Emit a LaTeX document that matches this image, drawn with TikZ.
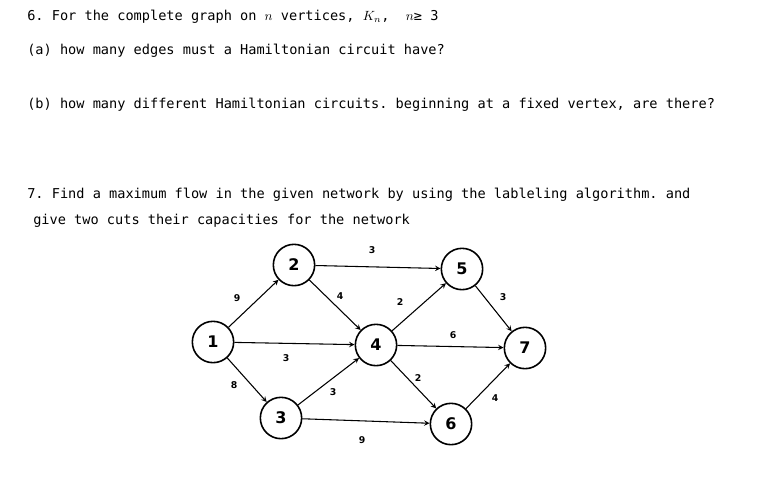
\documentclass[tikz,border=0pt]{standalone}
\usepackage{fontspec}
\setmainfont{DejaVu Sans}
\setmonofont{DejaVu Sans Mono}
\tikzset{vertex/.style = {draw, very thick, circle, minimum size=31pt, inner sep=0pt, font=\bfseries\large},
         flow/.style = {->, thick, >=stealth},
         capacity/.style = {font=\bfseries\scriptsize},
         line/.style = {anchor=west, inner sep=0pt, font=\ttfamily\fontsize{10.2}{12}\selectfont}}
\begin{document}
\begin{tikzpicture}[x=0.75pt,y=-0.75pt]
        \useasboundingbox (0,0) rectangle (767,486);
        % questions
        \node[line] (q6) at (27,17) {6. For the complete graph on $n$ vertices, $K_n$,\ \ $n$≥ 3};
        \node[line] (qa) at (27,51) {(a) how many edges must a Hamiltonian circuit have?};
        \node[line] (qb) at (27,105) {(b) how many different Hamiltonian circuits. beginning at a fixed vertex, are there?};
        \node[line] (q7) at (27,195) {7. Find a maximum flow in the given network by using the lableling algorithm. and};
        \node[line] (q7b) at (33,221) {give two cuts their capacities for the network};

        % network
        \node[vertex] (v1) at (213,342) {1};
        \node[vertex] (v2) at (294,265) {2};
        \node[vertex] (v3) at (281,418) {3};
        \node[vertex] (v4) at (376,345) {4};
        \node[vertex] (v5) at (462,269) {5};
        \node[vertex] (v6) at (451,424) {6};
        \node[vertex] (v7) at (525,348) {7};

        \draw[flow] (v1)--(v2);
        \draw[flow] (v1)--(v4);
        \draw[flow] (v1)--(v3);
        \draw[flow] (v2)--(v5);
        \draw[flow] (v2)--(v4);
        \draw[flow] (v3)--(v4);
        \draw[flow] (v3)--(v6);
        \draw[flow] (v4)--(v5);
        \draw[flow] (v4)--(v7);
        \draw[flow] (v4)--(v6);
        \draw[flow] (v5)--(v7);
        \draw[flow] (v6)--(v7);

        \node[capacity] (c12) at (237,298) {9};
        \node[capacity] (c24) at (340,296) {4};
        \node[capacity] (c25) at (372,250) {3};
        \node[capacity] (c45) at (400,302) {2};
        \node[capacity] (c57) at (503,297) {3};
        \node[capacity] (c47) at (453,335) {6};
        \node[capacity] (c14) at (286,358) {3};
        \node[capacity] (c13) at (234,385) {8};
        \node[capacity] (c34) at (333,392) {3};
        \node[capacity] (c46) at (418,378) {2};
        \node[capacity] (c67) at (495,398) {4};
        \node[capacity] (c36) at (362,440) {9};
    \end{tikzpicture}
\end{document}
